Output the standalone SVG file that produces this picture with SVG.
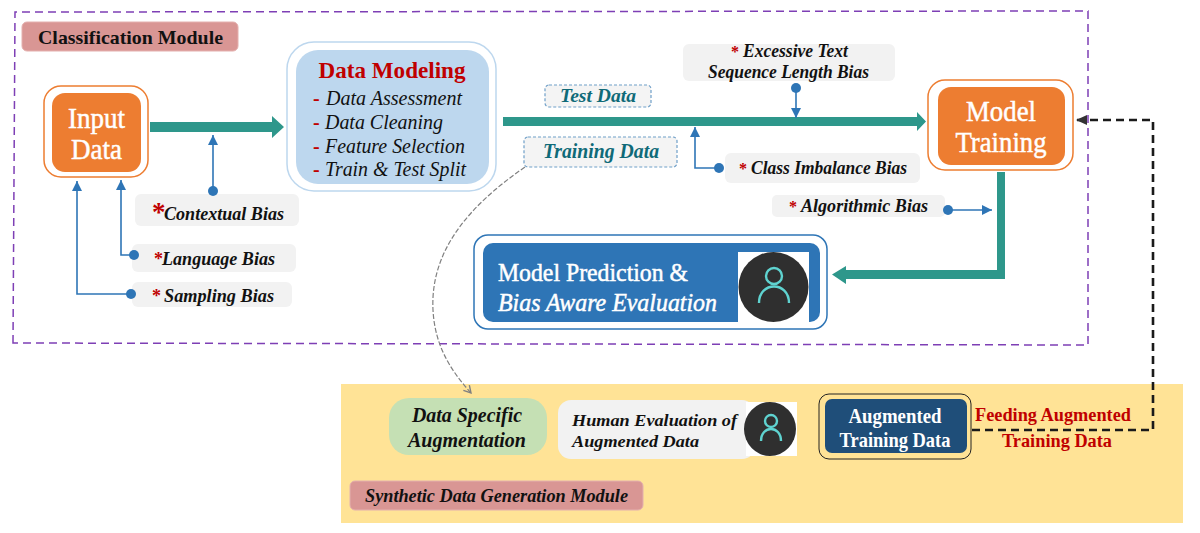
<svg xmlns="http://www.w3.org/2000/svg" width="1200" height="533" viewBox="0 0 1200 533">
<style>
text{font-family:"Liberation Serif","Times New Roman",serif}
.bi{font-weight:bold;font-style:italic;fill:#111}
.i{font-style:italic;fill:#111}
.r{fill:#c00000}
.w{fill:#fff}
.sw{stroke:#fff;stroke-width:.5}
.c{text-anchor:middle}
.gray{fill:#f2f2f2}
.blue{stroke:#2e75b6;stroke-width:1.6;fill:none}
.dot{fill:#2e75b6}
.teal{fill:#2e978b}
.dbox{fill:#f4f4f4;stroke:#6f9fc8;stroke-width:1.2;stroke-dasharray:3 2}
.tt{fill:#0f6a78;font-weight:bold;font-style:italic}
.pink{fill:#d99694;stroke:#e4b0ae}
.av{fill:none;stroke:#5fd3d0;stroke-width:2.4}
</style>
<defs>
<marker id="ba" markerUnits="userSpaceOnUse" markerWidth="12" markerHeight="10" refX="10" refY="5" orient="auto"><path d="M0,0L10,5L0,10z" fill="#2e75b6"/></marker>
<marker id="ga" markerUnits="userSpaceOnUse" markerWidth="11" markerHeight="11" refX="8" refY="5" orient="auto"><path d="M1,1L8,5L1,9" fill="none" stroke="#808080" stroke-width="1.4"/></marker>
<marker id="ka" markerUnits="userSpaceOnUse" markerWidth="12" markerHeight="12" refX="11" refY="6" orient="auto"><path d="M0,1L11,6L0,11z" fill="#333"/></marker>
</defs>
<g id="module-frames">
<path d="M13,343L15,12L1088,11L1088,345z" fill="none" stroke="#7e3fb5" stroke-width="1.5" stroke-dasharray="8 5"/>
<rect x="341" y="384" width="842" height="139" fill="#ffe396"/>
</g>
<g id="classification-label"><rect class="pink" x="22" y="22" width="216" height="29" rx="5"/><text x="38" y="44" font-size="19" font-weight="bold" fill="#111" textLength="185" lengthAdjust="spacingAndGlyphs">Classification Module</text></g>
<g id="input-data"><rect x="44" y="86" width="104" height="91" rx="17" fill="#fff" stroke="#ed7d31" stroke-width="1.5"/><rect x="52" y="93" width="89" height="79" rx="13" fill="#ed7d31"/><text class="w sw c" x="96.500" y="128" font-size="30" textLength="57" lengthAdjust="spacingAndGlyphs">Input</text><text class="w sw c" x="96.500" y="159" font-size="30" textLength="51" lengthAdjust="spacingAndGlyphs">Data</text></g>
<g id="data-modeling"><rect x="287" y="42" width="209" height="149" rx="27" fill="#fff" stroke="#bdd7ee" stroke-width="1.5"/><rect x="296" y="50" width="193" height="134" rx="22" fill="#bdd7ee"/>
<text class="r c" x="392" y="78" font-size="24" font-weight="bold" textLength="147" lengthAdjust="spacingAndGlyphs">Data Modeling</text>
<text class="r" x="313" y="105" font-size="20" font-weight="bold">-</text><text class="i" x="326" y="105" font-size="21" textLength="136" lengthAdjust="spacingAndGlyphs">Data Assessment</text>
<text class="r" x="313" y="129" font-size="20" font-weight="bold">-</text><text class="i" x="325" y="129" font-size="21" textLength="118" lengthAdjust="spacingAndGlyphs">Data Cleaning</text>
<text class="r" x="313" y="153" font-size="20" font-weight="bold">-</text><text class="i" x="325" y="153" font-size="21" textLength="140" lengthAdjust="spacingAndGlyphs">Feature Selection</text>
<text class="r" x="313" y="176" font-size="20" font-weight="bold">-</text><text class="i" x="325" y="176" font-size="21" textLength="141" lengthAdjust="spacingAndGlyphs">Train &amp; Test Split</text></g>
<g id="model-training"><rect x="928" y="80" width="145" height="90" rx="17" fill="#fff" stroke="#ed7d31" stroke-width="1.5"/><rect x="938" y="87" width="127" height="78" rx="13" fill="#ed7d31"/><text class="w sw c" x="1001" y="121" font-size="30" textLength="70" lengthAdjust="spacingAndGlyphs">Model</text><text class="w sw c" x="1001" y="152" font-size="30" textLength="91" lengthAdjust="spacingAndGlyphs">Training</text></g>
<g id="contextual-bias"><rect class="gray" x="135" y="194" width="164" height="32" rx="6"/><text class="r" x="152" y="221" font-size="27" font-weight="bold">*</text><text class="bi" x="164" y="220" font-size="18" textLength="120" lengthAdjust="spacingAndGlyphs">Contextual Bias</text></g>
<g id="language-bias"><rect class="gray" x="132" y="244" width="164" height="28" rx="6"/><text class="r" x="154" y="265" font-size="18" font-weight="bold">*</text><text class="bi" x="162" y="265" font-size="18" textLength="113" lengthAdjust="spacingAndGlyphs">Language Bias</text></g>
<g id="sampling-bias"><rect class="gray" x="132" y="282" width="160" height="25" rx="6"/><text class="r" x="152" y="302" font-size="18" font-weight="bold">*</text><text class="bi" x="164" y="302" font-size="18" textLength="110" lengthAdjust="spacingAndGlyphs">Sampling Bias</text></g>
<g id="test-data"><rect class="dbox" x="545" y="85" width="106" height="22" rx="4"/><text class="tt c" x="598" y="102" font-size="19" textLength="76" lengthAdjust="spacingAndGlyphs">Test Data</text></g>
<g id="training-data"><rect class="dbox" x="524" y="137" width="153" height="30" rx="4"/><text class="tt c" x="601" y="158" font-size="20" textLength="116" lengthAdjust="spacingAndGlyphs">Training Data</text></g>
<g id="excessive-bias"><rect class="gray" x="683" y="44" width="212" height="37" rx="6"/><text class="r" x="731" y="57" font-size="16" font-weight="bold">*</text><text class="bi" x="743" y="57" font-size="18" textLength="105" lengthAdjust="spacingAndGlyphs">Excessive Text</text><text class="bi" x="708" y="78" font-size="18" textLength="161" lengthAdjust="spacingAndGlyphs">Sequence Length Bias</text></g>
<g id="class-imbalance-bias"><rect class="gray" x="725" y="153" width="195" height="30" rx="6"/><text class="r" x="739" y="174" font-size="16" font-weight="bold">*</text><text class="bi" x="751" y="174" font-size="18" textLength="156" lengthAdjust="spacingAndGlyphs">Class Imbalance Bias</text></g>
<g id="algorithmic-bias"><rect class="gray" x="772" y="195" width="173" height="22" rx="5"/><text class="r" x="789" y="212" font-size="16" font-weight="bold">*</text><text class="bi" x="801" y="212" font-size="18" textLength="127" lengthAdjust="spacingAndGlyphs">Algorithmic Bias</text></g>
<g id="model-prediction"><rect x="474" y="235" width="353" height="94" rx="14" fill="#fff" stroke="#2e75b6" stroke-width="1.5"/><rect x="483" y="243" width="337" height="79" rx="10" fill="#2e75b6"/>
<text class="w sw" x="498" y="281" font-size="25" textLength="190" lengthAdjust="spacingAndGlyphs">Model Prediction &amp;</text><text class="w sw" x="498" y="311" font-size="25" font-style="italic" textLength="219" lengthAdjust="spacingAndGlyphs">Bias Aware Evaluation</text>
<rect x="738" y="252" width="71" height="70" fill="#fff"/><ellipse cx="773.500" cy="287" rx="35" ry="35" fill="#2f2f2f"/><ellipse class="av" cx="774" cy="276" rx="8" ry="8"/><path class="av" d="M759,303C759,281 789,281 789,303"/></g>
<g id="data-specific-augmentation"><rect x="389" y="398" width="158" height="57" rx="20" fill="#c5e0b4"/><text class="bi c" x="467" y="422" font-size="21" textLength="110" lengthAdjust="spacingAndGlyphs">Data Specific</text><text class="bi c" x="467" y="447" font-size="21" textLength="118" lengthAdjust="spacingAndGlyphs">Augmentation</text></g>
<g id="human-evaluation"><rect class="gray" x="558" y="400" width="197" height="59" rx="13"/><text class="bi" x="572" y="426" font-size="17" textLength="165" lengthAdjust="spacingAndGlyphs">Human Evaluation of</text><text class="bi" x="572" y="447" font-size="17" textLength="127" lengthAdjust="spacingAndGlyphs">Augmented Data</text>
<rect x="746" y="402" width="51" height="54" fill="#fff"/><ellipse cx="770" cy="429" rx="26" ry="27" fill="#2f2f2f"/><ellipse class="av" cx="771" cy="421" rx="6" ry="6"/><path class="av" d="M761,441C761,425 781,425 781,441"/></g>
<g id="augmented-training-data"><rect x="819" y="394" width="152" height="65" rx="10" fill="none" stroke="#222" stroke-width="1"/><rect x="825" y="399" width="142" height="54" rx="7" fill="#1f4e79"/><text class="w c" x="895" y="423" font-size="21" font-weight="bold" textLength="93" lengthAdjust="spacingAndGlyphs">Augmented</text><text class="w c" x="895" y="447" font-size="21" font-weight="bold" textLength="111" lengthAdjust="spacingAndGlyphs">Training Data</text></g>
<g id="feeding-label"><text class="r c" x="1053" y="421" font-size="18" font-weight="bold" textLength="156" lengthAdjust="spacingAndGlyphs">Feeding Augmented</text><text class="r c" x="1057" y="447" font-size="18" font-weight="bold" textLength="110" lengthAdjust="spacingAndGlyphs">Training Data</text></g>
<g id="synthetic-label"><rect class="pink" x="350" y="481" width="293" height="29" rx="5"/><text class="bi" x="365" y="502" font-size="18" textLength="263" lengthAdjust="spacingAndGlyphs">Synthetic Data Generation Module</text></g>
<g id="connectors">
<path class="teal" d="M150,122H272V116L284,127L272,138V132H150z"/>
<path class="teal" d="M503,117H917V112L926,121.500L917,131V126H503z"/>
<path class="teal" d="M997,172H1005V279H846V284L832,274.500L846,266V270H997z"/>
<path class="blue" d="M213,191V135" marker-end="url(#ba)"/><circle class="dot" cx="213" cy="191" r="5"/>
<path class="blue" d="M134,255H121V180" marker-end="url(#ba)"/><circle class="dot" cx="134" cy="255" r="5"/>
<path class="blue" d="M131,294H77V181" marker-end="url(#ba)"/><circle class="dot" cx="131" cy="294" r="5"/>
<path class="blue" d="M796,88V118" marker-end="url(#ba)"/><circle class="dot" cx="796" cy="88" r="5"/>
<path class="blue" d="M719,168H695V127" marker-end="url(#ba)"/><circle class="dot" cx="719" cy="168" r="5"/>
<path class="blue" d="M948,210H992" marker-end="url(#ba)"/><circle class="dot" cx="948" cy="210" r="5"/>
<path d="M525,167C470,205 430,250 433,310C435,350 455,375 471,393" fill="none" stroke="#808080" stroke-width="1.2" stroke-dasharray="5 2" marker-end="url(#ga)"/>
<path d="M972,430H1153V120H1076" fill="none" stroke="#1a1a1a" stroke-width="2.600" stroke-dasharray="8 5" marker-end="url(#ka)"/>
</g>
</svg>
